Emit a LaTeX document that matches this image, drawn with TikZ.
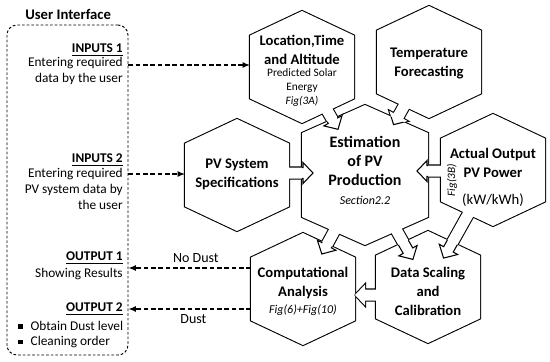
\documentclass[tikz,border=0pt]{standalone}
\usepackage{fontspec}
\setmainfont{Carlito}
\usetikzlibrary{arrows.meta, positioning}

% hexagon: centre x, centre y, half width, half height, half side
\newcommand{\hexat}[5]{(#1,#2-#4) -- (#1+#3,#2-#5) -- (#1+#3,#2+#5) -- (#1,#2+#4) -- (#1-#3,#2+#5) -- (#1-#3,#2-#5) -- cycle}
% block arrow of length #1 along the local x axis
\newcommand{\blockarrow}[1]{(0,-5.5) -- (#1-10,-5.5) -- (#1-10,-10.5) -- (#1,0) -- (#1-10,10.5) -- (#1-10,5.5) -- (0,5.5) -- cycle}
\newcommand{\bulletsq}{\rule[0.12em]{0.33em}{0.33em}\hspace{0.6em}}

\newcommand{\outerhexes}{302/67, 429/62, 237/175, 493/170, 428/287, 303/289}
% tail x/y, angle, length, target hexagon
\newcommand{\flowarrows}{322/101.6/-60/32/365/175/63/70/42,
  409.3/96.8/-119.5/32/365/175/63/70/42,
  280/173/0/33/365/175/63/70/42,
  450/171/180/33/365/175/63/70/42,
  341/218.9/-118.7/40/303/289/52/56/31.5,
  389.7/218.5/-60.4/47/428/287/52/56/31.5,
  473.4/204.9/-119.3/61/428/287/52/56/31.5,
  385/295/180/30/303/289/52/56/31.5}

\begin{document}
\begin{tikzpicture}[x=0.75pt, y=-0.75pt, >={Latex[length=5.5pt,width=4.5pt]},
  hextitle/.style={font=\fontsize{11}{14.25}\selectfont\bfseries, align=center, inner sep=0pt},
  hexnote/.style={font=\fontsize{8.5}{10.5}\selectfont, align=center, inner sep=0pt},
  uihead/.style={font=\fontsize{10}{12}\selectfont\bfseries, anchor=east, inner sep=0pt},
  uitext/.style={font=\fontsize{10}{11.7}\selectfont, align=right, anchor=east, inner sep=0pt},
  uibox/.style={draw, line width=0.7pt, dash pattern=on 2pt off 1.5pt, rounded corners=7.5pt, minimum width=90.75pt, minimum height=247.5pt},
  uiflow/.style={->, line width=1pt, dash pattern=on 3.5pt off 2pt},
  flowlabel/.style={font=\fontsize{10.5}{12}\selectfont}]
  \useasboundingbox (0,0) rectangle (550,361);

  % doubled outlines, the white fill leaves one merged border
  \foreach \cx/\cy in \outerhexes
    \draw[line width=1.6pt] \hexat{\cx}{\cy}{52}{56}{31.5};
  \draw[line width=1.6pt] \hexat{365}{175}{63}{70}{42};
  \foreach \ax/\ay/\aa/\al/\hx/\hy/\hw/\hh/\hs in \flowarrows
    \draw[line width=1.6pt, shift={(\ax,\ay)}, rotate=\aa] \blockarrow{\al};
  \foreach \cx/\cy in \outerhexes
    \fill[white] \hexat{\cx}{\cy}{52}{56}{31.5};
  \fill[white] \hexat{365}{175}{63}{70}{42};
  \foreach \ax/\ay/\aa/\al/\hx/\hy/\hw/\hh/\hs in \flowarrows
    \fill[white, shift={(\ax,\ay)}, rotate=\aa] \blockarrow{\al};
  % arrow heads seen inside the target
  \foreach \ax/\ay/\aa/\al/\hx/\hy/\hw/\hh/\hs in \flowarrows {
    \begin{scope}
      \clip \hexat{\hx}{\hy}{\hw}{\hh}{\hs};
      \draw[line width=0.8pt, shift={(\ax,\ay)}, rotate=\aa] \blockarrow{\al};
    \end{scope}
  }

  % hexagon texts
  \node[hextitle] (loctitle) at (302,50) {Location,Time\\and Altitude};
  \node[hexnote] (locnote) at (302,88) {Predicted Solar\\Energy\\\textit{Fig(3A)}};
  \node[hextitle] (temptitle) at (429,63) {Temperature\\Forecasting};
  \node[hextitle] (pvtitle) at (237,174) {PV System\\Specifications};
  \node[hextitle, font=\fontsize{12}{14.25}\selectfont\bfseries] (esttitle) at (365,161) {Estimation\\of PV\\Production};
  \node[hexnote, font=\fontsize{9}{11}\selectfont\itshape] (estnote) at (365,200) {Section2.2};
  \node[hextitle] (acttitle) at (493,162.5) {Actual Output\\PV Power};
  \node[hexnote, font=\fontsize{11}{13}\selectfont] (actunit) at (493,200) {(kW/kWh)};
  \node[hexnote, font=\fontsize{8.5}{10}\selectfont\itshape, rotate=90] (actfig) at (452,180) {Fig(3B)};
  \node[hextitle] (datatitle) at (428,291.5) {Data Scaling\\and\\Calibration};
  \node[hextitle] (comptitle) at (303,283) {Computational\\Analysis};
  \node[hexnote, font=\fontsize{9}{11}\selectfont\itshape] (compnote) at (303,310) {Fig(6)+Fig(10)};

  % user interface panel
  \node[font=\fontsize{11}{13}\selectfont\bfseries, anchor=west, inner sep=0pt] (uititle) at (25,14) {User Interface};
  \node[uibox] (ui) at (67.5,190) {};
  \node[uihead] (in1) at (123,50) {\underline{INPUTS 1}};
  \node[uitext] (in1txt) at (123,71) {Entering required\\data by the user};
  \node[uihead] (in2) at (123,160) {\underline{INPUTS 2}};
  \node[uitext] (in2txt) at (123,189) {Entering required\\PV system data by\\the user};
  \node[uihead] (out1) at (123,258) {\underline{OUTPUT 1}};
  \node[uitext] (out1txt) at (123,274) {Showing Results};
  \node[uihead] (out2) at (123,309) {\underline{OUTPUT 2}};
  \node[uitext, align=left, anchor=west] (out2txt) at (18,334.5) {\bulletsq Obtain Dust level\\\bulletsq Cleaning order};

  % connectors
  \coordinate (locw) at (250,65);
  \coordinate (pvw) at (185,174);
  \coordinate (compw1) at (251,268);
  \coordinate (compw2) at (251,309);
  \draw[uiflow] (ui.east |- locw) -- (locw);
  \draw[uiflow] (ui.east |- pvw) -- (pvw);
  \draw[uiflow] (compw1) -- node[flowlabel, above, pos=0.45] {No Dust} (ui.east |- compw1);
  \draw[uiflow] (compw2) -- node[flowlabel, below, pos=0.47] {Dust} (ui.east |- compw2);
\end{tikzpicture}
\end{document}
